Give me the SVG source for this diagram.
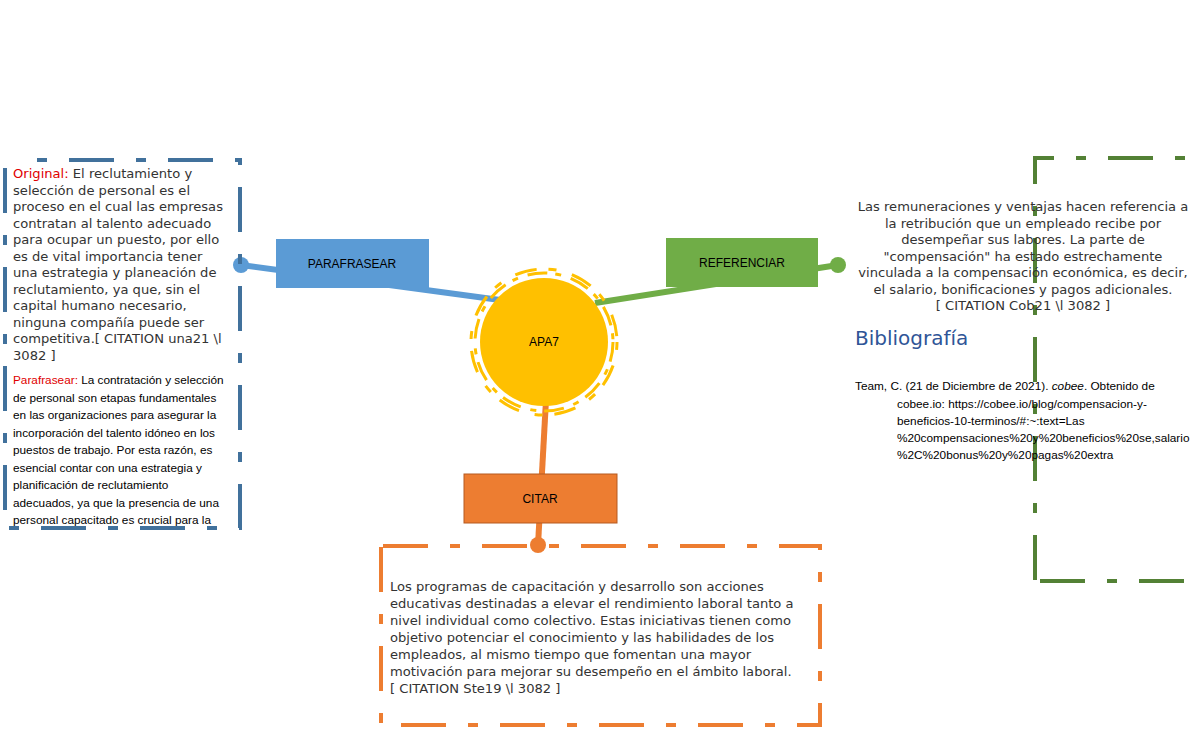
<svg xmlns="http://www.w3.org/2000/svg" width="1200" height="729" viewBox="0 0 1200 729">
<style>
.t{font-family:"DejaVu Sans",sans-serif;font-size:13.1px;fill:#333}
.c{font-family:"Liberation Sans",sans-serif;font-size:11.8px;fill:#000}
.lbl{font-family:"Liberation Sans",sans-serif;font-size:12px;fill:#000;text-anchor:middle}
.red{fill:#e00000}
.box{fill:none;stroke-width:4;stroke-dasharray:45 22 10 22}
</style>
<rect width="1200" height="729" fill="#fff"/>
<g id="connectors" stroke-width="6" fill="none">
<line x1="241" y1="265" x2="500" y2="300" stroke="#5b9bd5"/>
<line x1="838" y1="265" x2="595" y2="303" stroke="#70ad47"/>
<line x1="546" y1="400" x2="538" y2="545" stroke="#ed7d31"/>
<circle cx="241" cy="265" r="8" fill="#5b9bd5" stroke="none"/>
<circle cx="838" cy="265" r="8" fill="#70ad47" stroke="none"/>
<circle cx="538" cy="545" r="8" fill="#ed7d31" stroke="none"/>
</g>
<g id="apa7">
<circle cx="544" cy="342" r="64" fill="#ffc000"/>
<circle cx="544" cy="342" r="69" fill="none" stroke="#ffc000" stroke-width="3" stroke-dasharray="20 8 6 10"/>
<circle cx="544" cy="342" r="73" fill="none" stroke="#ffc000" stroke-width="3" stroke-dasharray="8 16 22 12"/>
<text x="544" y="346" class="lbl">APA7</text>
</g>
<g id="parafrasear"><rect x="276" y="239" width="153" height="49" fill="#5b9bd5"/><text x="352" y="268" class="lbl">PARAFRASEAR</text></g>
<g id="referenciar"><rect x="666" y="238" width="152" height="49" fill="#70ad47"/><text x="742" y="267" class="lbl">REFERENCIAR</text></g>
<g id="citar"><rect x="464" y="474" width="153" height="49" fill="#ed7d31" stroke="#b55a20"/><text x="540" y="503" class="lbl">CITAR</text></g>
<g id="left">
<path class="box" stroke="#41719c" d="M5 168 V528 H240 V160 H18"/>
<text class="t"><tspan x="13" y="178"><tspan class="red">Original:</tspan> El reclutamiento y</tspan><tspan x="13" y="194.5">selección de personal es el</tspan><tspan x="13" y="211">proceso en el cual las empresas</tspan><tspan x="13" y="227.5">contratan al talento adecuado</tspan><tspan x="13" y="244">para ocupar un puesto, por ello</tspan><tspan x="13" y="260.5">es de vital importancia tener</tspan><tspan x="13" y="277">una estrategia y planeación de</tspan><tspan x="13" y="293.5">reclutamiento, ya que, sin el</tspan><tspan x="13" y="310">capital humano necesario,</tspan><tspan x="13" y="326.5">ninguna compañía puede ser</tspan><tspan x="13" y="343">competitiva.[ CITATION una21 \l</tspan><tspan x="13" y="359.5">3082 ]</tspan></text>
<text class="c"><tspan x="13" y="384"><tspan class="red">Parafrasear:</tspan> La contratación y selección</tspan><tspan x="13" y="401.5">de personal son etapas fundamentales</tspan><tspan x="13" y="419">en las organizaciones para asegurar la</tspan><tspan x="13" y="436.5">incorporación del talento idóneo en los</tspan><tspan x="13" y="454">puestos de trabajo. Por esta razón, es</tspan><tspan x="13" y="471.5">esencial contar con una estrategia y</tspan><tspan x="13" y="489">planificación de reclutamiento</tspan><tspan x="13" y="506.5">adecuados, ya que la presencia de una</tspan><tspan x="13" y="524">personal capacitado es crucial para la</tspan></text>
</g>
<g id="right">
<path class="box" stroke="#538135" d="M1035 580 V158 H1200 M1040 581 H1200"/>
<text class="t" text-anchor="middle"><tspan x="1023" y="211">Las remuneraciones y ventajas hacen referencia a</tspan><tspan x="1023" y="227.5">la retribución que un empleado recibe por</tspan><tspan x="1023" y="244">desempeñar sus labores. La parte de</tspan><tspan x="1023" y="260.5">"compensación" ha estado estrechamente</tspan><tspan x="1023" y="277">vinculada a la compensación económica, es decir,</tspan><tspan x="1023" y="293.5">el salario, bonificaciones y pagos adicionales.</tspan><tspan x="1023" y="310">[ CITATION Cob21 \l 3082 ]</tspan></text>
<text x="855" y="345" style="font-family:'DejaVu Sans',sans-serif;font-size:20px;fill:#2f5597">Bibliografía</text>
<text class="c"><tspan x="855" y="390">Team, C. (21 de Diciembre de 2021). <tspan font-style="italic">cobee</tspan>. Obtenido de</tspan><tspan x="897" y="407.5">cobee.io: https://cobee.io/blog/compensacion-y-</tspan><tspan x="897" y="424.5">beneficios-10-terminos/#:~:text=Las</tspan><tspan x="897" y="442">%20compensaciones%20y%20beneficios%20se,salario</tspan><tspan x="897" y="459">%2C%20bonus%20y%20pagas%20extra</tspan></text>
</g>
<g id="bottom">
<path class="box" stroke="#ed7d31" d="M383 546 H820 V725 H381 V546"/>
<text class="t"><tspan x="390" y="591">Los programas de capacitación y desarrollo son acciones</tspan><tspan x="390" y="608">educativas destinadas a elevar el rendimiento laboral tanto a</tspan><tspan x="390" y="625">nivel individual como colectivo. Estas iniciativas tienen como</tspan><tspan x="390" y="642">objetivo potenciar el conocimiento y las habilidades de los</tspan><tspan x="390" y="659">empleados, al mismo tiempo que fomentan una mayor</tspan><tspan x="390" y="676">motivación para mejorar su desempeño en el ámbito laboral.</tspan><tspan x="390" y="693">[ CITATION Ste19 \l 3082 ]</tspan></text>
</g>
</svg>
